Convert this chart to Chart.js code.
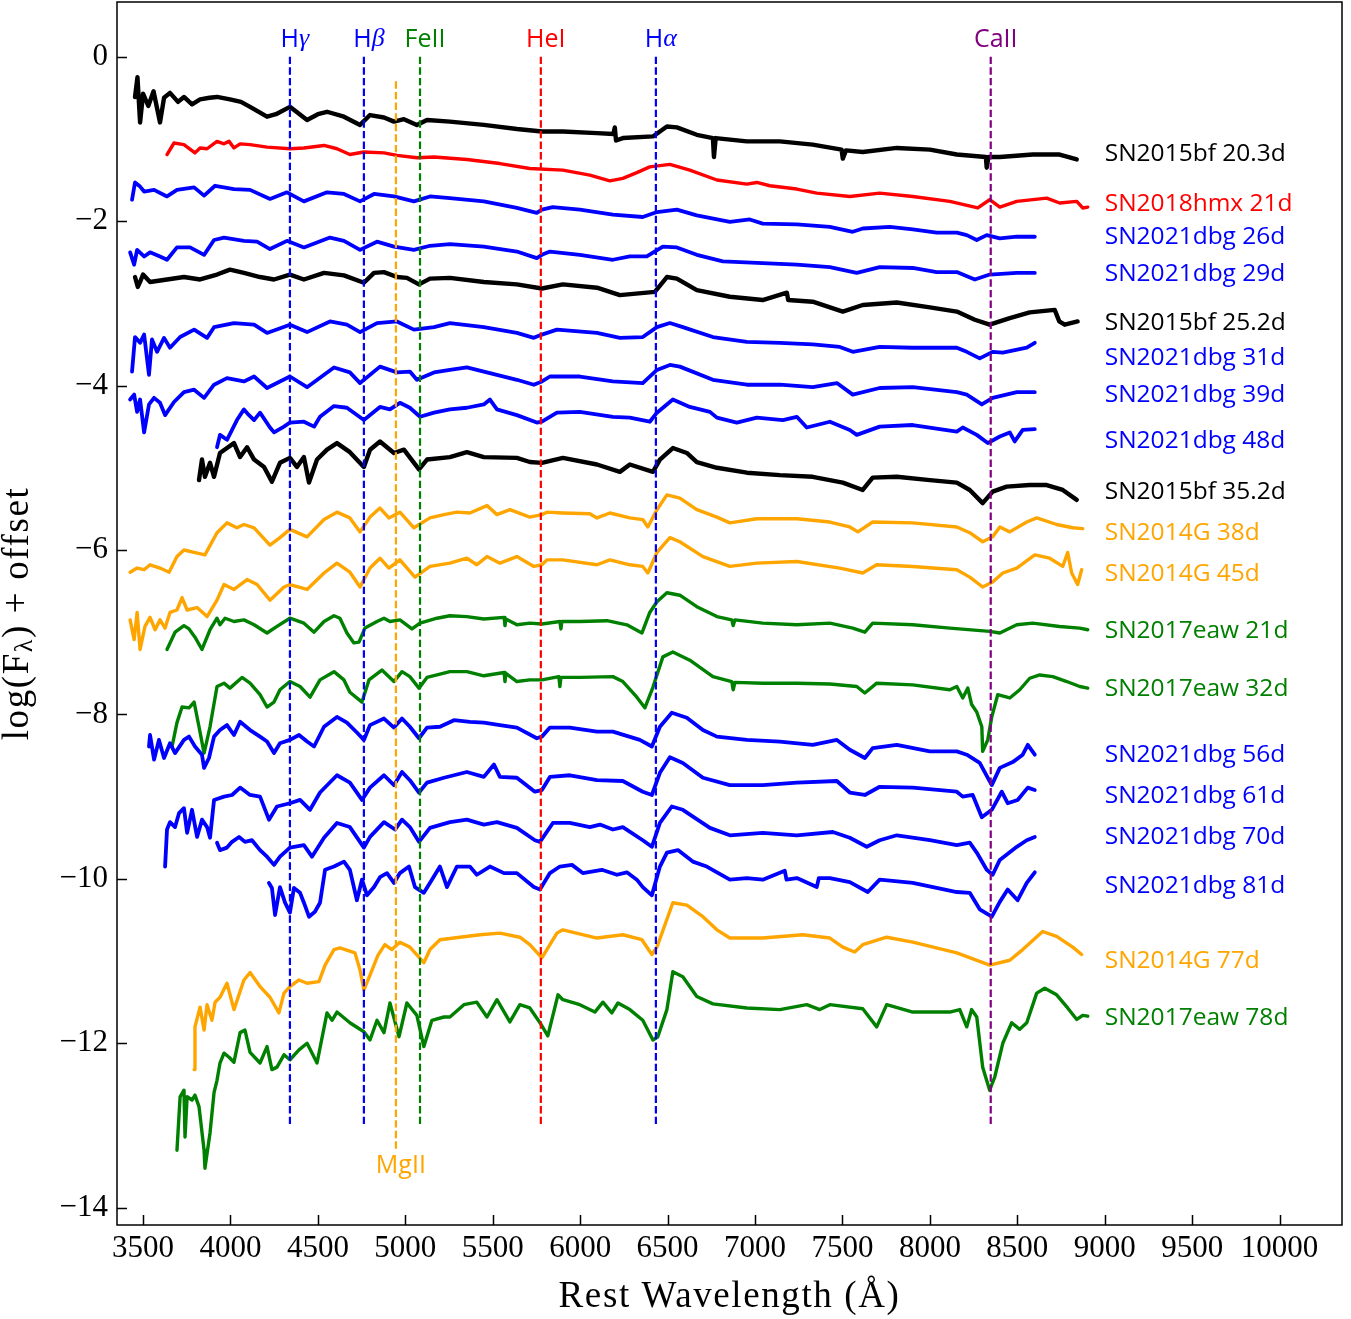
<!DOCTYPE html>
<html><head><meta charset="utf-8">
<script src="https://cdn.jsdelivr.net/npm/chart.js@4/dist/chart.umd.min.js"></script>
<style>html,body{margin:0;padding:0;background:#fff}canvas{display:block}</style>
</head><body>
<canvas id="c" width="1351" height="1319"></canvas>
<script>
// ---- spectra: [rest wavelength (Å), log(F_lambda) + offset] ----
const sn2015bf_20 = [[3454,-0.49],[3468,-0.25],[3483,-0.80],[3500,-0.45],[3530,-0.60],[3560,-0.42],[3597,-0.80],[3620,-0.50],[3654,-0.44],[3700,-0.55],[3734,-0.49],[3780,-0.58],[3826,-0.52],[3880,-0.50],[3923,-0.49],[3997,-0.52],[4060,-0.55],[4112,-0.61],[4209,-0.73],[4260,-0.70],[4340,-0.61],[4438,-0.77],[4500,-0.70],[4552,-0.67],[4649,-0.73],[4741,-0.83],[4798,-0.71],[4878,-0.74],[4935,-0.79],[4992,-0.76],[5066,-0.83],[5124,-0.77],[5255,-0.79],[5449,-0.83],[5638,-0.88],[5781,-0.91],[5901,-0.91],[6096,-0.93],[6190,-0.94],[6198,-0.86],[6205,-1.02],[6244,-0.99],[6416,-0.97],[6496,-0.85],[6553,-0.86],[6667,-0.95],[6759,-0.99],[6765,-1.22],[6775,-0.99],[6953,-1.03],[7142,-1.03],[7330,-1.07],[7495,-1.13],[7502,-1.24],[7520,-1.14],[7616,-1.16],[7811,-1.11],[8000,-1.13],[8154,-1.19],[8320,-1.22],[8325,-1.35],[8335,-1.22],[8400,-1.22],[8588,-1.19],[8742,-1.19],[8840,-1.25]];
const sn2018hmx_21 = [[3637,-1.19],[3677,-1.05],[3734,-1.07],[3797,-1.17],[3826,-1.11],[3866,-1.12],[3923,-1.03],[3963,-1.06],[3992,-1.03],[4020,-1.11],[4055,-1.06],[4112,-1.07],[4209,-1.10],[4340,-1.12],[4420,-1.11],[4535,-1.08],[4609,-1.12],[4683,-1.19],[4763,-1.16],[4878,-1.17],[4952,-1.20],[5066,-1.23],[5164,-1.22],[5352,-1.25],[5541,-1.30],[5712,-1.36],[5901,-1.38],[6055,-1.44],[6170,-1.51],[6244,-1.48],[6324,-1.41],[6398,-1.34],[6513,-1.31],[6627,-1.38],[6782,-1.50],[6953,-1.55],[7010,-1.53],[7085,-1.57],[7239,-1.61],[7353,-1.66],[7542,-1.70],[7713,-1.66],[7902,-1.70],[8114,-1.76],[8274,-1.84],[8342,-1.74],[8400,-1.83],[8497,-1.76],[8668,-1.72],[8742,-1.78],[8840,-1.76],[8874,-1.84],[8903,-1.83]];
const sn2021dbg_26 = [[3437,-1.74],[3454,-1.53],[3483,-1.58],[3506,-1.64],[3563,-1.62],[3637,-1.70],[3694,-1.62],[3792,-1.59],[3849,-1.69],[3912,-1.57],[4020,-1.61],[4112,-1.62],[4226,-1.73],[4323,-1.65],[4420,-1.76],[4552,-1.65],[4649,-1.67],[4741,-1.76],[4821,-1.67],[4935,-1.70],[5049,-1.76],[5141,-1.70],[5255,-1.72],[5449,-1.76],[5638,-1.84],[5752,-1.90],[5781,-1.86],[5843,-1.83],[5998,-1.86],[6187,-1.92],[6358,-1.95],[6439,-1.89],[6553,-1.86],[6667,-1.93],[6856,-2.01],[6970,-1.98],[7044,-2.03],[7239,-2.04],[7428,-2.07],[7559,-2.13],[7616,-2.09],[7771,-2.07],[7902,-2.10],[8039,-2.14],[8154,-2.14],[8211,-2.17],[8268,-2.23],[8325,-2.17],[8400,-2.21],[8497,-2.19],[8600,-2.19]];
const sn2021dbg_29 = [[3426,-2.38],[3449,-2.53],[3466,-2.35],[3506,-2.43],[3540,-2.38],[3597,-2.43],[3637,-2.47],[3694,-2.32],[3769,-2.32],[3849,-2.41],[3906,-2.23],[3963,-2.20],[4077,-2.24],[4152,-2.25],[4226,-2.34],[4323,-2.24],[4420,-2.32],[4569,-2.20],[4649,-2.24],[4741,-2.35],[4838,-2.25],[4935,-2.31],[5049,-2.35],[5141,-2.30],[5255,-2.28],[5449,-2.31],[5638,-2.37],[5752,-2.45],[5781,-2.41],[5827,-2.37],[5998,-2.41],[6187,-2.47],[6284,-2.43],[6381,-2.43],[6473,-2.31],[6553,-2.32],[6667,-2.41],[6816,-2.49],[7044,-2.51],[7239,-2.53],[7428,-2.56],[7582,-2.63],[7713,-2.56],[7902,-2.57],[8039,-2.62],[8154,-2.62],[8257,-2.71],[8342,-2.65],[8497,-2.63],[8600,-2.63]];
const sn2015bf_25 = [[3454,-2.68],[3470,-2.80],[3483,-2.74],[3500,-2.65],[3540,-2.74],[3637,-2.71],[3734,-2.68],[3826,-2.71],[3923,-2.65],[3997,-2.59],[4077,-2.63],[4169,-2.68],[4249,-2.71],[4340,-2.65],[4420,-2.71],[4535,-2.63],[4649,-2.66],[4763,-2.75],[4821,-2.63],[4878,-2.62],[4952,-2.68],[5009,-2.69],[5078,-2.77],[5141,-2.70],[5255,-2.69],[5449,-2.74],[5638,-2.77],[5781,-2.82],[5901,-2.77],[6096,-2.81],[6227,-2.90],[6381,-2.87],[6427,-2.86],[6496,-2.68],[6553,-2.70],[6667,-2.84],[6856,-2.92],[7044,-2.96],[7182,-2.87],[7190,-2.96],[7330,-2.98],[7502,-3.10],[7616,-3.02],[7811,-2.99],[8000,-3.05],[8154,-3.10],[8257,-3.20],[8342,-3.26],[8457,-3.18],[8571,-3.11],[8714,-3.08],[8740,-3.22],[8771,-3.26],[8845,-3.22]];
const sn2021dbg_31 = [[3437,-3.83],[3454,-3.41],[3483,-3.48],[3506,-3.38],[3534,-3.87],[3551,-3.44],[3580,-3.59],[3620,-3.42],[3654,-3.54],[3712,-3.41],[3792,-3.32],[3866,-3.42],[3906,-3.29],[4020,-3.24],[4135,-3.26],[4209,-3.36],[4340,-3.26],[4438,-3.35],[4569,-3.22],[4666,-3.26],[4741,-3.35],[4838,-3.24],[4952,-3.22],[5049,-3.32],[5164,-3.29],[5255,-3.24],[5449,-3.29],[5638,-3.36],[5735,-3.42],[5781,-3.38],[5867,-3.32],[6096,-3.36],[6227,-3.42],[6358,-3.41],[6439,-3.29],[6513,-3.24],[6587,-3.29],[6759,-3.41],[6953,-3.47],[7142,-3.48],[7330,-3.50],[7485,-3.53],[7559,-3.59],[7713,-3.53],[7902,-3.54],[8154,-3.54],[8211,-3.59],[8285,-3.67],[8359,-3.59],[8417,-3.60],[8554,-3.54],[8600,-3.48]];
const sn2021dbg_39 = [[3426,-4.17],[3449,-4.11],[3466,-4.32],[3483,-4.17],[3506,-4.57],[3534,-4.23],[3563,-4.15],[3597,-4.21],[3626,-4.36],[3677,-4.20],[3734,-4.08],[3792,-4.05],[3849,-4.15],[3906,-3.99],[3980,-3.91],[4077,-3.95],[4135,-3.89],[4209,-4.03],[4340,-3.89],[4438,-4.02],[4592,-3.78],[4683,-3.84],[4741,-3.97],[4855,-3.77],[4952,-3.84],[5026,-3.83],[5066,-3.93],[5164,-3.84],[5255,-3.81],[5352,-3.78],[5449,-3.83],[5638,-3.93],[5735,-3.99],[5781,-3.95],[5827,-3.89],[5998,-3.89],[6187,-3.95],[6358,-3.97],[6439,-3.81],[6513,-3.75],[6570,-3.77],[6759,-3.93],[6953,-3.99],[7142,-3.99],[7330,-4.02],[7468,-3.97],[7559,-4.11],[7713,-4.03],[7902,-4.02],[8154,-4.08],[8211,-4.11],[8297,-4.23],[8359,-4.15],[8497,-4.08],[8600,-4.08]];
const sn2021dbg_48 = [[3923,-4.75],[3940,-4.60],[3980,-4.66],[4009,-4.54],[4037,-4.42],[4077,-4.29],[4106,-4.36],[4135,-4.42],[4169,-4.33],[4226,-4.51],[4249,-4.57],[4306,-4.50],[4340,-4.45],[4420,-4.44],[4478,-4.50],[4512,-4.38],[4592,-4.25],[4666,-4.27],[4763,-4.42],[4855,-4.26],[4912,-4.29],[4969,-4.21],[5026,-4.27],[5084,-4.38],[5164,-4.33],[5255,-4.29],[5352,-4.27],[5449,-4.23],[5484,-4.17],[5524,-4.29],[5638,-4.36],[5752,-4.45],[5781,-4.44],[5867,-4.33],[5998,-4.32],[6187,-4.38],[6284,-4.39],[6398,-4.44],[6439,-4.33],[6530,-4.17],[6627,-4.26],[6742,-4.32],[6782,-4.39],[6896,-4.45],[7010,-4.39],[7159,-4.42],[7239,-4.38],[7296,-4.51],[7428,-4.44],[7542,-4.54],[7582,-4.60],[7713,-4.50],[7902,-4.48],[8154,-4.56],[8188,-4.51],[8268,-4.60],[8331,-4.70],[8400,-4.62],[8457,-4.57],[8485,-4.68],[8531,-4.54],[8600,-4.53]];
const sn2015bf_35 = [[3820,-5.15],[3837,-4.90],[3854,-5.11],[3883,-4.94],[3906,-5.11],[3940,-4.82],[3980,-4.76],[4020,-4.70],[4055,-4.87],[4095,-4.75],[4135,-4.90],[4192,-4.99],[4237,-5.17],[4283,-4.94],[4340,-4.88],[4380,-4.99],[4420,-4.87],[4449,-5.18],[4495,-4.90],[4552,-4.78],[4609,-4.70],[4683,-4.81],[4763,-4.99],[4798,-4.78],[4855,-4.68],[4935,-4.82],[4992,-4.78],[5078,-5.02],[5124,-4.90],[5255,-4.87],[5352,-4.81],[5449,-4.87],[5638,-4.88],[5712,-4.93],[5781,-4.94],[5901,-4.88],[6096,-4.96],[6227,-5.05],[6284,-4.96],[6416,-5.05],[6456,-4.90],[6530,-4.76],[6610,-4.82],[6667,-4.93],[6782,-5.00],[6953,-5.06],[7142,-5.09],[7330,-5.11],[7502,-5.18],[7616,-5.27],[7673,-5.12],[7811,-5.11],[8000,-5.15],[8154,-5.18],[8228,-5.27],[8302,-5.43],[8359,-5.29],[8439,-5.23],[8571,-5.21],[8668,-5.21],[8760,-5.27],[8840,-5.39]];
const sn2014G_38 = [[3426,-6.27],[3466,-6.22],[3506,-6.24],[3540,-6.18],[3597,-6.22],[3649,-6.27],[3694,-6.08],[3734,-6.00],[3792,-6.03],[3854,-6.06],[3923,-5.79],[3980,-5.67],[4037,-5.73],[4077,-5.69],[4135,-5.73],[4226,-5.94],[4283,-5.85],[4340,-5.75],[4438,-5.84],[4535,-5.63],[4609,-5.54],[4683,-5.61],[4741,-5.78],[4798,-5.60],[4855,-5.49],[4906,-5.61],[4969,-5.54],[5049,-5.73],[5141,-5.61],[5221,-5.57],[5295,-5.54],[5369,-5.55],[5467,-5.46],[5524,-5.57],[5598,-5.51],[5712,-5.60],[5781,-5.57],[5810,-5.54],[5901,-5.55],[6055,-5.56],[6096,-5.61],[6170,-5.55],[6284,-5.61],[6358,-5.63],[6387,-5.72],[6439,-5.51],[6496,-5.33],[6570,-5.37],[6667,-5.51],[6782,-5.60],[6856,-5.67],[7010,-5.62],[7239,-5.62],[7428,-5.66],[7542,-5.72],[7588,-5.78],[7673,-5.66],[7902,-5.67],[8154,-5.72],[8228,-5.79],[8302,-5.90],[8359,-5.84],[8400,-5.72],[8457,-5.78],[8554,-5.66],[8611,-5.61],[8725,-5.69],[8817,-5.73],[8874,-5.74]];
const sn2014G_45 = [[3426,-6.85],[3449,-7.09],[3466,-6.76],[3483,-7.21],[3511,-6.93],[3540,-6.82],[3569,-6.97],[3597,-6.85],[3626,-6.95],[3654,-6.76],[3694,-6.73],[3723,-6.58],[3752,-6.73],[3809,-6.70],[3866,-6.81],[3923,-6.61],[3963,-6.42],[4020,-6.48],[4095,-6.36],[4152,-6.42],[4226,-6.61],[4306,-6.45],[4340,-6.42],[4438,-6.48],[4535,-6.28],[4609,-6.16],[4683,-6.27],[4741,-6.45],[4798,-6.22],[4855,-6.10],[4906,-6.22],[4969,-6.12],[5055,-6.33],[5141,-6.20],[5255,-6.16],[5352,-6.10],[5409,-6.18],[5467,-6.08],[5541,-6.16],[5638,-6.08],[5735,-6.20],[5781,-6.18],[5810,-6.12],[5901,-6.12],[6096,-6.18],[6170,-6.12],[6284,-6.18],[6358,-6.20],[6387,-6.28],[6439,-6.03],[6513,-5.85],[6570,-5.90],[6702,-6.08],[6856,-6.20],[7010,-6.16],[7239,-6.14],[7485,-6.22],[7616,-6.28],[7696,-6.18],[7902,-6.20],[8154,-6.24],[8228,-6.33],[8302,-6.45],[8359,-6.39],[8417,-6.28],[8497,-6.22],[8600,-6.06],[8685,-6.10],[8760,-6.20],[8788,-6.03],[8811,-6.28],[8845,-6.42],[8868,-6.24]];
const sn2017eaw_21 = [[3637,-7.21],[3683,-7.00],[3734,-6.92],[3763,-6.96],[3797,-7.06],[3837,-7.21],[3883,-6.97],[3923,-6.83],[3940,-6.91],[3969,-6.83],[4020,-6.87],[4077,-6.85],[4135,-6.91],[4209,-7.01],[4266,-6.93],[4340,-6.83],[4420,-6.89],[4478,-7.00],[4535,-6.87],[4592,-6.80],[4626,-6.83],[4666,-7.01],[4706,-7.13],[4735,-7.12],[4769,-6.95],[4838,-6.87],[4878,-6.83],[4912,-6.87],[4969,-6.85],[5038,-6.96],[5084,-6.89],[5181,-6.83],[5255,-6.80],[5352,-6.81],[5449,-6.84],[5565,-6.82],[5570,-6.92],[5575,-6.84],[5638,-6.91],[5712,-6.89],[5781,-6.90],[5884,-6.87],[5890,-6.96],[5895,-6.87],[5998,-6.87],[6153,-6.86],[6267,-6.91],[6353,-7.01],[6398,-6.76],[6439,-6.63],[6496,-6.52],[6570,-6.55],[6667,-6.69],[6782,-6.81],[6867,-6.85],[6875,-6.92],[6885,-6.85],[7044,-6.89],[7239,-6.91],[7428,-6.89],[7559,-6.95],[7628,-7.00],[7673,-6.89],[7902,-6.91],[8114,-6.95],[8342,-6.99],[8400,-7.01],[8497,-6.91],[8588,-6.89],[8742,-6.93],[8857,-6.95],[8903,-6.97]];
const sn2017eaw_32 = [[3666,-8.39],[3694,-8.10],[3723,-7.91],[3763,-7.92],[3792,-7.85],[3820,-8.15],[3849,-8.47],[3883,-8.15],[3923,-7.66],[3963,-7.62],[3997,-7.68],[4066,-7.55],[4112,-7.62],[4169,-7.76],[4209,-7.91],[4249,-7.85],[4283,-7.70],[4340,-7.60],[4398,-7.66],[4455,-7.79],[4512,-7.58],[4592,-7.48],[4649,-7.58],[4683,-7.73],[4752,-7.85],[4792,-7.58],[4866,-7.46],[4935,-7.60],[4981,-7.48],[5026,-7.54],[5078,-7.68],[5124,-7.55],[5255,-7.48],[5352,-7.48],[5449,-7.53],[5565,-7.49],[5570,-7.60],[5575,-7.50],[5638,-7.60],[5712,-7.58],[5781,-7.58],[5878,-7.54],[5884,-7.66],[5890,-7.55],[5998,-7.55],[6187,-7.54],[6244,-7.60],[6324,-7.79],[6370,-7.92],[6416,-7.67],[6473,-7.30],[6530,-7.24],[6627,-7.34],[6759,-7.54],[6867,-7.60],[6875,-7.70],[6885,-7.61],[7044,-7.62],[7239,-7.62],[7428,-7.63],[7582,-7.66],[7628,-7.74],[7696,-7.62],[7902,-7.64],[8114,-7.70],[8154,-7.66],[8188,-7.80],[8217,-7.68],[8239,-7.88],[8268,-7.97],[8297,-8.15],[8302,-8.45],[8331,-8.31],[8354,-8.03],[8388,-7.76],[8457,-7.80],[8514,-7.70],[8571,-7.56],[8628,-7.52],[8703,-7.54],[8783,-7.60],[8857,-7.66],[8903,-7.68]];
const sn2021dbg_56 = [[3534,-8.39],[3540,-8.25],[3563,-8.55],[3591,-8.31],[3620,-8.53],[3654,-8.35],[3683,-8.47],[3734,-8.31],[3763,-8.27],[3797,-8.39],[3837,-8.49],[3849,-8.65],[3877,-8.53],[3906,-8.27],[3940,-8.19],[3980,-8.13],[4020,-8.25],[4055,-8.09],[4112,-8.19],[4169,-8.27],[4209,-8.33],[4249,-8.47],[4283,-8.35],[4340,-8.31],[4392,-8.25],[4438,-8.33],[4478,-8.39],[4535,-8.15],[4609,-8.03],[4666,-8.10],[4723,-8.22],[4763,-8.31],[4798,-8.13],[4878,-8.05],[4935,-8.16],[4981,-8.05],[5026,-8.15],[5078,-8.29],[5124,-8.16],[5198,-8.15],[5278,-8.07],[5369,-8.09],[5449,-8.10],[5541,-8.13],[5638,-8.16],[5752,-8.29],[5781,-8.27],[5827,-8.16],[5941,-8.16],[6096,-8.21],[6187,-8.21],[6341,-8.31],[6410,-8.39],[6456,-8.15],[6524,-7.98],[6610,-8.04],[6702,-8.19],[6782,-8.27],[6953,-8.31],[7142,-8.33],[7330,-8.37],[7468,-8.31],[7542,-8.43],[7628,-8.53],[7673,-8.41],[7811,-8.37],[8000,-8.45],[8154,-8.45],[8211,-8.49],[8285,-8.59],[8354,-8.86],[8400,-8.65],[8474,-8.58],[8531,-8.49],[8560,-8.37],[8600,-8.49]];
const sn2021dbg_61 = [[3626,-9.85],[3637,-9.40],[3654,-9.31],[3683,-9.37],[3706,-9.20],[3734,-9.14],[3752,-9.44],[3780,-9.16],[3809,-9.49],[3837,-9.28],[3866,-9.37],[3883,-9.50],[3906,-9.04],[3963,-9.00],[4009,-8.98],[4055,-8.89],[4112,-8.98],[4169,-9.00],[4220,-9.28],[4266,-9.12],[4340,-9.08],[4398,-9.04],[4455,-9.16],[4512,-8.95],[4609,-8.74],[4683,-8.83],[4752,-9.04],[4798,-8.89],[4878,-8.74],[4935,-8.86],[4981,-8.70],[5026,-8.80],[5078,-8.95],[5124,-8.83],[5221,-8.77],[5352,-8.70],[5449,-8.76],[5507,-8.61],[5541,-8.76],[5638,-8.77],[5741,-8.94],[5781,-8.92],[5827,-8.76],[5941,-8.74],[6096,-8.80],[6244,-8.81],[6358,-8.94],[6410,-8.98],[6456,-8.71],[6513,-8.52],[6587,-8.59],[6702,-8.77],[6856,-8.86],[7044,-8.86],[7239,-8.83],[7468,-8.81],[7542,-8.95],[7628,-8.98],[7713,-8.88],[7902,-8.89],[8154,-8.94],[8188,-9.00],[8245,-8.98],[8297,-9.25],[8354,-9.16],[8411,-8.94],[8445,-9.08],[8502,-9.04],[8560,-8.89],[8600,-8.92]];
const sn2021dbg_70 = [[3923,-9.56],[3940,-9.65],[3980,-9.62],[4009,-9.55],[4049,-9.49],[4083,-9.55],[4123,-9.53],[4169,-9.65],[4209,-9.73],[4249,-9.83],[4283,-9.73],[4340,-9.62],[4420,-9.59],[4466,-9.73],[4535,-9.50],[4609,-9.32],[4683,-9.37],[4763,-9.62],[4798,-9.49],[4878,-9.31],[4941,-9.40],[4981,-9.28],[5026,-9.37],[5078,-9.55],[5141,-9.38],[5255,-9.31],[5352,-9.28],[5449,-9.34],[5524,-9.31],[5638,-9.38],[5741,-9.53],[5770,-9.55],[5844,-9.32],[5941,-9.32],[6055,-9.37],[6113,-9.34],[6187,-9.40],[6244,-9.37],[6358,-9.53],[6410,-9.61],[6456,-9.32],[6524,-9.12],[6587,-9.16],[6742,-9.38],[6856,-9.47],[7044,-9.44],[7239,-9.47],[7445,-9.43],[7542,-9.50],[7639,-9.61],[7713,-9.53],[7811,-9.47],[8000,-9.53],[8154,-9.59],[8228,-9.56],[8268,-9.68],[8325,-9.89],[8359,-9.95],[8400,-9.77],[8497,-9.61],[8554,-9.53],[8600,-9.49]];
const sn2021dbg_81 = [[4220,-10.05],[4237,-10.11],[4255,-10.44],[4283,-10.10],[4312,-10.29],[4340,-10.41],[4363,-10.11],[4398,-10.17],[4420,-10.29],[4449,-10.46],[4483,-10.40],[4512,-10.29],[4541,-9.89],[4592,-9.85],[4649,-9.79],[4683,-9.89],[4723,-10.26],[4752,-10.01],[4781,-10.20],[4821,-10.10],[4855,-9.98],[4895,-9.93],[4935,-10.05],[4969,-9.93],[5021,-9.85],[5055,-10.10],[5106,-10.17],[5152,-10.01],[5198,-9.85],[5238,-10.10],[5295,-9.85],[5369,-9.85],[5409,-9.95],[5484,-9.85],[5564,-9.93],[5638,-9.93],[5735,-10.10],[5770,-10.13],[5827,-9.93],[5884,-9.85],[5953,-9.83],[6015,-9.93],[6124,-9.89],[6210,-9.95],[6267,-9.92],[6324,-10.01],[6358,-10.10],[6410,-10.20],[6456,-9.85],[6496,-9.68],[6559,-9.65],[6644,-9.79],[6724,-9.85],[6856,-10.01],[6953,-9.99],[7044,-10.01],[7170,-9.90],[7180,-10.01],[7239,-9.99],[7353,-10.10],[7365,-9.99],[7428,-9.99],[7542,-10.04],[7645,-10.16],[7713,-10.01],[7902,-10.05],[8154,-10.16],[8228,-10.17],[8285,-10.37],[8354,-10.46],[8400,-10.28],[8445,-10.13],[8502,-10.26],[8554,-10.05],[8600,-9.92]];
const sn2014G_77 = [[3792,-12.32],[3797,-11.80],[3826,-11.56],[3849,-11.84],[3866,-11.53],[3894,-11.72],[3912,-11.50],[3940,-11.44],[3980,-11.27],[4020,-11.59],[4077,-11.23],[4112,-11.14],[4169,-11.31],[4226,-11.44],[4277,-11.63],[4306,-11.39],[4340,-11.31],[4392,-11.23],[4438,-11.27],[4506,-11.25],[4541,-11.05],[4592,-10.86],[4626,-10.84],[4712,-10.90],[4741,-11.11],[4763,-11.35],[4798,-11.17],[4843,-10.93],[4883,-10.80],[4923,-10.86],[4969,-10.77],[5026,-10.83],[5106,-11.02],[5141,-10.86],[5198,-10.74],[5312,-10.71],[5427,-10.68],[5541,-10.66],[5655,-10.71],[5712,-10.80],[5781,-10.96],[5867,-10.66],[5901,-10.62],[6096,-10.72],[6244,-10.68],[6353,-10.74],[6410,-10.92],[6439,-10.83],[6530,-10.29],[6610,-10.32],[6702,-10.46],[6782,-10.62],[6856,-10.72],[7044,-10.72],[7273,-10.68],[7428,-10.72],[7502,-10.83],[7570,-10.89],[7616,-10.80],[7753,-10.71],[7902,-10.77],[8154,-10.90],[8342,-11.05],[8457,-10.99],[8531,-10.86],[8645,-10.64],[8725,-10.70],[8817,-10.83],[8868,-10.92]];
const sn2017eaw_78 = [[3694,-13.30],[3712,-12.65],[3734,-12.57],[3740,-13.14],[3752,-12.65],[3780,-12.69],[3797,-12.63],[3820,-12.77],[3849,-13.30],[3854,-13.52],[3883,-13.09],[3906,-12.60],[3923,-12.45],[3940,-12.24],[3963,-12.12],[3992,-12.17],[4020,-12.23],[4055,-11.87],[4083,-11.84],[4112,-12.11],[4169,-12.24],[4209,-12.04],[4237,-12.32],[4266,-12.29],[4306,-12.14],[4340,-12.20],[4392,-12.08],[4438,-12.00],[4495,-12.24],[4552,-11.63],[4581,-11.72],[4609,-11.62],[4683,-11.75],[4763,-11.86],[4798,-11.96],[4838,-11.72],[4878,-11.87],[4912,-11.51],[4964,-11.92],[5009,-11.51],[5066,-11.66],[5106,-12.04],[5152,-11.72],[5221,-11.68],[5255,-11.68],[5335,-11.53],[5409,-11.50],[5467,-11.68],[5524,-11.47],[5598,-11.74],[5655,-11.53],[5712,-11.57],[5770,-11.75],[5815,-11.91],[5873,-11.41],[5901,-11.47],[5998,-11.53],[6084,-11.62],[6130,-11.50],[6181,-11.63],[6216,-11.51],[6284,-11.59],[6358,-11.72],[6416,-11.96],[6444,-11.92],[6496,-11.59],[6530,-11.13],[6587,-11.19],[6667,-11.43],[6759,-11.52],[6953,-11.57],[7142,-11.59],[7296,-11.53],[7370,-11.59],[7428,-11.53],[7616,-11.58],[7696,-11.80],[7753,-11.53],[7902,-11.62],[8114,-11.62],[8171,-11.59],[8211,-11.80],[8239,-11.59],[8268,-11.68],[8302,-12.29],[8342,-12.57],[8371,-12.41],[8417,-12.00],[8468,-11.75],[8514,-11.83],[8554,-11.75],[8611,-11.39],[8657,-11.33],[8725,-11.41],[8788,-11.57],[8840,-11.71],[8874,-11.66],[8903,-11.67]];

const spectra = [sn2015bf_20, sn2018hmx_21, sn2021dbg_26, sn2021dbg_29, sn2015bf_25, sn2021dbg_31, sn2021dbg_39, sn2021dbg_48, sn2015bf_35, sn2014G_38, sn2014G_45, sn2017eaw_21, sn2017eaw_32, sn2021dbg_56, sn2021dbg_61, sn2021dbg_70, sn2021dbg_81, sn2014G_77, sn2017eaw_78];
const names = ['SN2015bf 20.3d','SN2018hmx 21d','SN2021dbg 26d','SN2021dbg 29d','SN2015bf 25.2d','SN2021dbg 31d','SN2021dbg 39d','SN2021dbg 48d','SN2015bf 35.2d','SN2014G 38d','SN2014G 45d','SN2017eaw 21d','SN2017eaw 32d','SN2021dbg 56d','SN2021dbg 61d','SN2021dbg 70d','SN2021dbg 81d','SN2014G 77d','SN2017eaw 78d'];
const colors = ['#000000','#ff0000','#0000ff','#0000ff','#000000','#0000ff','#0000ff','#0000ff','#000000','#ffa500','#ffa500','#008000','#008000','#0000ff','#0000ff','#0000ff','#0000ff','#ffa500','#008000'];
const nameY = [-1.19,-1.79,-2.19,-2.64,-3.24,-3.66,-4.11,-4.67,-5.29,-5.79,-6.29,-6.98,-7.69,-8.49,-8.99,-9.49,-10.09,-11.00,-11.69];
const nameX = 9000;

// ---- line identifications ----
const lineBase = ['H','H','MgII','FeII','HeI','H','CaII'];
const lineGreek = ['γ','β','','','','α',''];
const lineWaves = [4340, 4763, 4946, 5084, 5775, 6433, 8348];
const lineColors = ['#0000ff','#0000ff','#ffa500','#008000','#ff0000','#0000ff','#800080'];
const lineTop = [0, 0, -0.3, 0, 0, 0, 0];
const lineBottom = [-13, -13, -13.3, -13, -13, -13, -13];
const lineLabelY = [0.21, 0.21, -13.49, 0.21, 0.21, 0.21, 0.21];

const xTicks = [3500,4000,4500,5000,5500,6000,6500,7000,7500,8000,8500,9000,9500,10000];
const yTicks = [0,-2,-4,-6,-8,-10,-12,-14];

const SANS = '"Open Sans", "DejaVu Sans", sans-serif';
const SERIF = '"Liberation Serif", "DejaVu Serif", serif';

function widthFor(c) { return c === '#000000' ? 4.4 : (c === '#0000ff' ? 3.8 : 3.4); }

const datasets = [];
lineWaves.forEach((w, i) => {
  datasets.push({
    data: [{x: w, y: lineTop[i]}, {x: w, y: lineBottom[i]}],
    borderColor: lineColors[i], borderWidth: 2.2, borderDash: [7.4, 3.2],
    showLine: true, pointRadius: 0, order: 0
  });
});
spectra.forEach((s, i) => {
  datasets.push({
    data: s.map(p => ({x: p[0], y: p[1]})),
    borderColor: colors[i], borderWidth: widthFor(colors[i]), showLine: true, pointRadius: 0,
    borderJoinStyle: 'round', borderCapStyle: 'round', tension: 0,
    order: 100 - i
  });
});

function drawMixed(ctx, parts, cx, cy) {
  let total = 0;
  parts.forEach(p => { ctx.font = p.font; p.w = ctx.measureText(p.t).width; total += p.w; });
  let x = cx - total / 2;
  parts.forEach(p => { ctx.font = p.font; ctx.fillText(p.t, x, cy + (p.dy || 0)); x += p.w; });
}

const annot = {
  id: 'annot',
  afterDatasetsDraw(chart) {
    const {ctx, scales: {x, y}} = chart;
    ctx.save();
    ctx.textBaseline = 'middle';
    ctx.textAlign = 'left';
    lineWaves.forEach((w, i) => {
      ctx.fillStyle = lineColors[i];
      const parts = [{t: lineBase[i], font: '25px ' + SANS}];
      if (lineGreek[i]) parts.push({t: lineGreek[i], font: 'italic 26px ' + SERIF});
      drawMixed(ctx, parts, x.getPixelForValue(w) + 5, y.getPixelForValue(lineLabelY[i]));
    });
    ctx.font = '24.5px ' + SANS;
    names.forEach((n, i) => {
      ctx.fillStyle = colors[i];
      ctx.fillText(n, x.getPixelForValue(nameX), y.getPixelForValue(nameY[i]));
    });
    ctx.restore();
  },
  afterDraw(chart) {
    const {ctx, chartArea: a, scales: {x, y}} = chart;
    ctx.save();
    ctx.strokeStyle = '#000';
    ctx.lineWidth = 1.5;
    ctx.strokeRect(a.left, a.top, a.right - a.left, a.bottom - a.top);
    ctx.beginPath();
    xTicks.forEach(v => { const px = Math.round(x.getPixelForValue(v)) + 0.5; ctx.moveTo(px, a.bottom); ctx.lineTo(px, a.bottom - 10); });
    yTicks.forEach(v => { const py = Math.round(y.getPixelForValue(v)) + 0.5; ctx.moveTo(a.left, py); ctx.lineTo(a.left + 10, py); });
    ctx.stroke();
    ctx.fillStyle = '#000';
    ctx.textBaseline = 'middle';
    ctx.textAlign = 'left';
    ctx.save();
    ctx.letterSpacing = '1.6px';
    drawMixed(ctx, [{t: 'Rest Wavelength (Å)', font: '37px ' + SERIF}], (a.left + a.right) / 2, 1297);
    ctx.restore();
    ctx.save();
    ctx.letterSpacing = '1.6px';
    ctx.translate(18, (a.top + a.bottom) / 2);
    ctx.rotate(-Math.PI / 2);
    drawMixed(ctx, [
      {t: 'log(F', font: '37px ' + SERIF},
      {t: 'λ', font: '26px ' + SERIF, dy: 7},
      {t: ') + offset', font: '37px ' + SERIF}
    ], 0, 0);
    ctx.restore();
    ctx.restore();
  }
};

Chart.defaults.color = '#000';
new Chart(document.getElementById('c'), {
  type: 'scatter',
  data: {datasets},
  options: {
    responsive: false, animation: false, devicePixelRatio: 1,
    layout: {padding: {left: 0, right: 9, top: 2, bottom: 0}},
    plugins: {legend: {display: false}, tooltip: {enabled: false}},
    scales: {
      x: {
        type: 'linear', min: 3351, max: 10357,
        grid: {display: false, drawTicks: false}, border: {display: false},
        afterBuildTicks: s => { s.ticks = xTicks.map(v => ({value: v})); },
        afterFit: s => { s.height = 94; s.paddingLeft = 0; s.paddingRight = 0; },
        ticks: {autoSkip: false, maxRotation: 0, padding: 5, font: {family: SERIF, size: 31}, callback: v => String(v)},
        title: {display: false}
      },
      y: {
        type: 'linear', min: -14.21, max: 0.665,
        grid: {display: false, drawTicks: false}, border: {display: false},
        afterBuildTicks: s => { s.ticks = yTicks.map(v => ({value: v})); },
        afterFit: s => { s.width = 117; s.paddingTop = 0; s.paddingBottom = 0; },
        ticks: {autoSkip: false, padding: 9, font: {family: SERIF, size: 31}, callback: v => String(v).replace('-', '\u2212')},
        title: {display: false}
      }
    }
  },
  plugins: [annot]
});
</script>
</body></html>
